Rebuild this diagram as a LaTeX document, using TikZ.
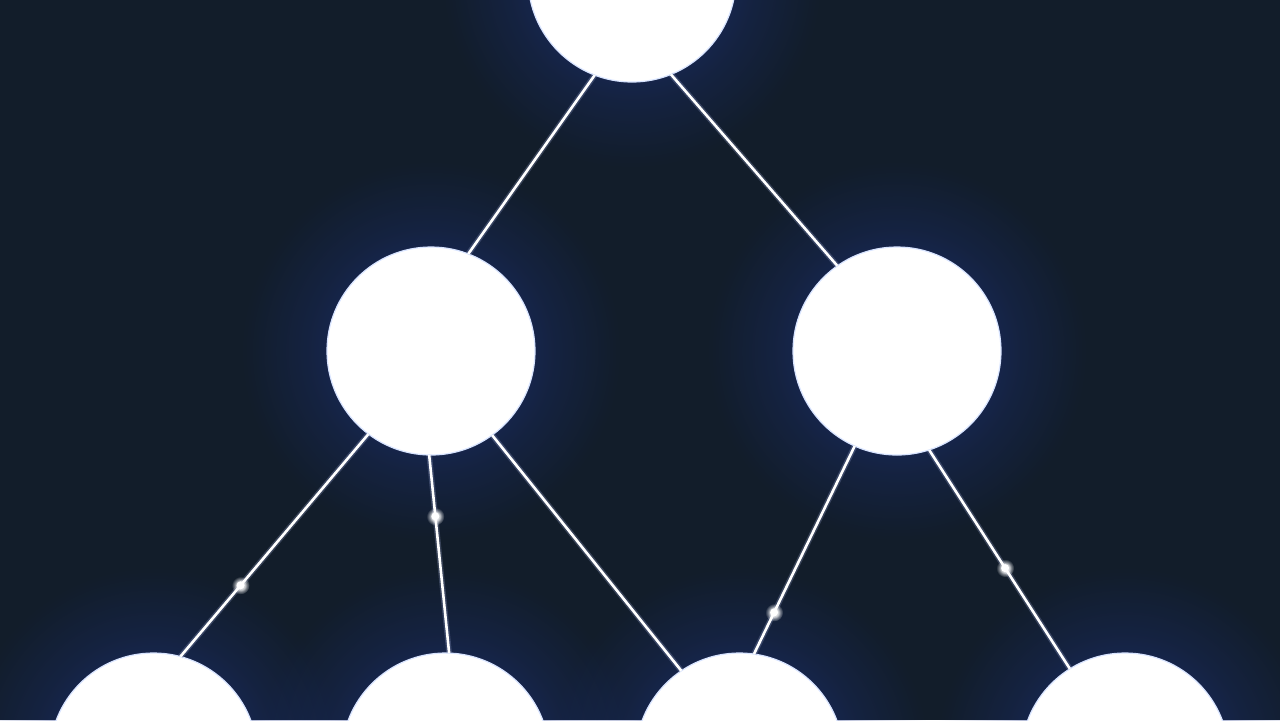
\documentclass[tikz,border=0pt]{standalone}
\usetikzlibrary{fadings}
\definecolor{bg}{HTML}{121D2A}
\definecolor{glowc}{HTML}{1E3485}
\definecolor{edgec}{HTML}{D8E4FF}
\pgfdeclareradialshading{glowshade}{\pgfpointorigin}{color(0bp)=(white); color(12bp)=(white); color(16bp)=(white!60!black); color(25bp)=(black); color(50bp)=(black)}
\pgfdeclarefading{glowfade}{\pgfuseshading{glowshade}}
\begin{document}
\begin{tikzpicture}[x=0.5pt,y=-0.5pt,
  ball/.style={circle, fill=white, draw=edgec, line width=0.6pt, minimum size=104pt, inner sep=0pt, outer sep=0pt},
  link/.style={white, line width=1.3pt, preaction={draw=glowc!50!white, line width=2.8pt, opacity=0.3}},
  spark/.style={circle, fill=white, minimum size=4pt, inner sep=0pt},
  halo/.style={glowc, opacity=0.42, path fading=glowfade, fit fading=true},
  sparkhalo/.style={white, opacity=0.8, path fading=glowfade, fit fading=true}]
\fill[bg] (0,0) rectangle (1280,720);
\useasboundingbox (0,0) rectangle (1280,720);
\begin{scope}
\clip (0,0) rectangle (1280,720);
\coordinate (cT) at (632,-22);
\coordinate (cL) at (431,351);
\coordinate (cR) at (897,351);
\coordinate (c1) at (153.5,757);
\coordinate (c2) at (445.5,757);
\coordinate (c3) at (739.5,757);
\coordinate (c4) at (1125,757);
\foreach \c in {cT,cL,cR,c1,c2,c3,c4}{
  \fill[halo] (\c) circle (190);
}
\node[ball] (top) at (cT) {};
\node[ball] (mL) at (cL) {};
\node[ball] (mR) at (cR) {};
\node[ball] (b1) at (c1) {};
\node[ball] (b2) at (c2) {};
\node[ball] (b3) at (c3) {};
\node[ball] (b4) at (c4) {};
\draw[link] (top.249) -- (mL.69);
\draw[link] (top.292) -- (mR.125);
\draw[link] (mL.233.5) -- node[pos=0.68, spark] (s1) {} (b1.75.3);
\draw[link] (mL.269.5) -- node[pos=0.31, spark] (s2) {} (b2.88.6);
\draw[link] (mL.306.4) -- (b3.124.8);
\draw[link] (mR.246.4) -- node[pos=0.80, spark] (s3) {} (b3.82.6);
\draw[link] (mR.288.4) -- node[pos=0.54, spark] (s4) {} (b4.122.3);
\foreach \s in {s1,s2,s3,s4}{
  \fill[sparkhalo] (\s) circle (9);
}
\end{scope}
\end{tikzpicture}
\end{document}
